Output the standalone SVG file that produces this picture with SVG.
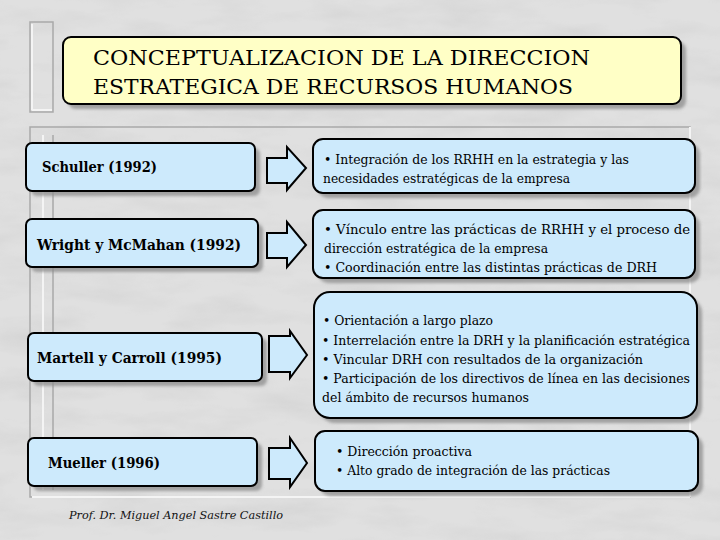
<svg xmlns="http://www.w3.org/2000/svg" width="720" height="540" viewBox="0 0 720 540">
<defs>
<filter id="marble" x="0" y="0" width="100%" height="100%">
<feTurbulence type="fractalNoise" baseFrequency="0.012 0.04" numOctaves="4" seed="7" result="n"/>
<feColorMatrix type="matrix" values="0 0 0 0 0.5  0 0 0 0 0.5  0 0 0 0 0.5  -1.6 0 0 0 0.95" result="g"/>
<feComposite in="g" in2="SourceGraphic" operator="in"/>
</filter>
<filter id="blur" x="-10%" y="-10%" width="130%" height="150%"><feGaussianBlur stdDeviation="1.5"/></filter>
<style>
.shadow{fill:#8c8c8c;opacity:0.75;filter:url(#blur)}
.box{fill:#cdeafc;stroke:#000;stroke-width:2}
.title{fill:#ffffc6;stroke:#000;stroke-width:2}
.arrow{fill:#cdeafc;stroke:#000;stroke-width:2;stroke-linejoin:miter}
.frame{fill:none;stroke:#f4f4f4;stroke-width:2}
.frameg{fill:none;stroke:#a9a9a9;stroke-width:1.5}
.lt{font-family:"DejaVu Serif","Liberation Serif",serif;font-weight:bold;font-size:15px;fill:#000}
.rt{font-family:"DejaVu Serif","Liberation Serif",serif;font-size:12px;fill:#000}
.tt{font-family:"DejaVu Serif","Liberation Serif",serif;font-size:21px;fill:#000}
.ft{font-family:"DejaVu Serif","Liberation Serif",serif;font-style:italic;font-size:11.5px;fill:#111}
</style>
</defs>
<rect width="720" height="540" fill="#e0e0e0"/>
<rect width="720" height="540" fill="#ffffff" filter="url(#marble)" opacity="0.35"/>

<g id="frame">
<rect x="30" y="22" width="23" height="90" class="frameg"/>
<line x1="32" y1="24" x2="32" y2="110" class="frame"/>
<line x1="32" y1="110" x2="52" y2="110" class="frame"/>
<rect x="30" y="127" width="660" height="370" class="frameg"/>
<line x1="32" y1="497" x2="690" y2="497" class="frame"/>
<line x1="690" y1="127" x2="690" y2="497" class="frame"/>
<line x1="43" y1="135" x2="43" y2="490" class="frame"/>
<line x1="53" y1="135" x2="53" y2="490" class="frameg"/>
</g>

<g id="title">
<rect x="68" y="42" width="618" height="67" rx="8" class="shadow"/>
<rect x="63" y="37" width="618" height="67" rx="8" class="title"/>
<text x="93" y="65" class="tt" textLength="497" lengthAdjust="spacingAndGlyphs">CONCEPTUALIZACION DE LA DIRECCION</text>
<text x="93" y="94" class="tt" textLength="480" lengthAdjust="spacingAndGlyphs">ESTRATEGICA DE RECURSOS HUMANOS</text>
</g>

<g id="schuller">
<rect x="31" y="148" width="229" height="48" rx="6" class="shadow"/>
<rect x="26" y="143" width="229" height="48" rx="6" class="box"/>
<text x="42" y="172" class="lt" textLength="115" lengthAdjust="spacingAndGlyphs">Schuller (1992)</text>
</g>
<g id="wright">
<rect x="31" y="224" width="232" height="48" rx="6" class="shadow"/>
<rect x="26" y="219" width="232" height="48" rx="6" class="box"/>
<text x="37" y="250" class="lt" textLength="204" lengthAdjust="spacingAndGlyphs">Wright y McMahan (1992)</text>
</g>
<g id="martell">
<rect x="33" y="338" width="234" height="48" rx="6" class="shadow"/>
<rect x="28" y="333" width="234" height="48" rx="6" class="box"/>
<text x="37" y="363" class="lt" textLength="185" lengthAdjust="spacingAndGlyphs">Martell y Carroll (1995)</text>
</g>
<g id="mueller">
<rect x="33" y="443" width="229" height="48" rx="6" class="shadow"/>
<rect x="28" y="438" width="229" height="48" rx="6" class="box"/>
<text x="48" y="468" class="lt" textLength="112" lengthAdjust="spacingAndGlyphs">Mueller (1996)</text>
</g>

<g id="connectors">
<polygon class="arrow" points="267,158 287,158 287,147 306,168 287,190 287,183 267,183"/>
<polygon class="arrow" points="267,233 287,233 287,222 306,245 287,267 287,258 267,258"/>
<polygon class="arrow" points="269,336 290,336 290,331 307,355 290,378 290,372 269,372"/>
<polygon class="arrow" points="269,448 290,448 290,438 307,463 290,487 290,479 269,479"/>
</g>

<g id="r1">
<rect x="318" y="144" width="382" height="54" rx="10" class="shadow"/>
<rect x="313" y="139" width="382" height="54" rx="10" class="box"/>
<text x="324" y="164" class="rt" textLength="305" lengthAdjust="spacingAndGlyphs">• Integración de los RRHH en la estrategia y las</text>
<text x="323" y="183" class="rt" textLength="247" lengthAdjust="spacingAndGlyphs">necesidades estratégicas de la empresa</text>
</g>
<g id="r2">
<rect x="318" y="215" width="382" height="68" rx="10" class="shadow"/>
<rect x="313" y="210" width="382" height="68" rx="10" class="box"/>
<text x="324" y="234" class="rt" textLength="366" lengthAdjust="spacingAndGlyphs">• Vínculo entre las prácticas de RRHH y el proceso de</text>
<text x="324" y="253" class="rt" textLength="224" lengthAdjust="spacingAndGlyphs">dirección estratégica de la empresa</text>
<text x="324" y="272" class="rt" textLength="333" lengthAdjust="spacingAndGlyphs">• Coordinación entre las distintas prácticas de  DRH</text>
</g>
<g id="r3">
<rect x="319" y="297" width="383" height="126" rx="16" class="shadow"/>
<rect x="314" y="292" width="383" height="126" rx="16" class="box"/>
<text x="323" y="325" class="rt" textLength="170" lengthAdjust="spacingAndGlyphs">• Orientación a largo plazo</text>
<text x="322" y="345" class="rt" textLength="368" lengthAdjust="spacingAndGlyphs">• Interrelación entre la DRH y la planificación estratégica</text>
<text x="322" y="364" class="rt" textLength="321" lengthAdjust="spacingAndGlyphs">• Vincular DRH con resultados de la organización</text>
<text x="322" y="383" class="rt" textLength="368" lengthAdjust="spacingAndGlyphs">• Participación de los directivos de línea en las decisiones</text>
<text x="322" y="402" class="rt" textLength="207" lengthAdjust="spacingAndGlyphs">del ámbito de recursos humanos</text>
</g>
<g id="r4">
<rect x="320" y="436" width="383" height="60" rx="10" class="shadow"/>
<rect x="315" y="431" width="383" height="60" rx="10" class="box"/>
<text x="336" y="456" class="rt" textLength="136" lengthAdjust="spacingAndGlyphs">• Dirección proactiva</text>
<text x="336" y="475" class="rt" textLength="274" lengthAdjust="spacingAndGlyphs">• Alto grado de integración de las prácticas</text>
</g>

<text x="69" y="519" class="ft" textLength="214" lengthAdjust="spacingAndGlyphs">Prof. Dr. Miguel Angel Sastre Castillo</text>
</svg>
